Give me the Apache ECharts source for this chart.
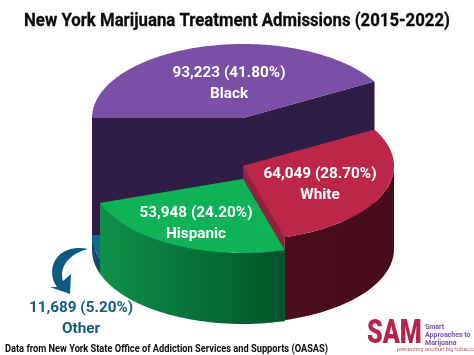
<!DOCTYPE html>
<html>
<head>
<meta charset="utf-8">
<style>
  html, body { margin: 0; padding: 0; background: #fff; }
  #chart { width: 474px; height: 355px; }
</style>
<script src="https://cdn.jsdelivr.net/npm/echarts@6/dist/echarts.min.js"></script>
</head>
<body>
<div id="chart"></div>
<script>
// 数据
const categories = ['Black', 'White', 'Hispanic', 'Other'];
const admissions = [93223, 64049, 53948, 11689];
const percentLabels = ['41.80%', '28.70%', '24.20%', '5.20%'];

// slices are painted back to front
const drawOrder = [0, 3, 1, 2];

// pie geometry
const centerX = 243, radiusX = 151, radiusY = 74, startAngle = 180;
const sliceTop = [118, 166, 179, 235];
const sliceDepth = [117, 83, 71, 15];
const topColors = ['#7b4fa6', '#bb2649', '#10b257', '#0f6a8c'];
const cutColors = ['#2f1c47', '#93203c', '#0b7a3c', '#134b66'];
const wallColors = [
  ['#2f1c47', '#2f1c47'],
  ['#4c0d1c', '#470b1a'],
  ['#0e9148', '#00542b'],
  ['#134b66', '#134b66']
];
const labelPos = [[229, 73], [320, 174], [196, 213], [81, 308]];
const labelColors = ['#fff', '#fff', '#fff', '#155a80'];

const total = admissions.reduce((a, b) => a + b, 0);

// 角度区间 (clockwise from startAngle)
function sliceAngles(idx) {
  let before = 0;
  for (let i = 0; i < idx; i++) before += admissions[i];
  return [
    startAngle - before / total * 360,
    startAngle - (before + admissions[idx]) / total * 360
  ];
}

function rim(deg, cy) {
  const a = deg * Math.PI / 180;
  return [centerX + radiusX * Math.cos(a), cy - radiusY * Math.sin(a)];
}

function arcPoints(from, to, cy) {
  const pts = [];
  const n = Math.max(2, Math.ceil(Math.abs(from - to)));
  for (let i = 0; i <= n; i++) pts.push(rim(from + (to - from) * i / n, cy));
  return pts;
}

function renderSlice(params, api) {
  const idx = api.value(0);
  const [a0, a1] = sliceAngles(idx);
  const cy = sliceTop[idx];
  const depth = sliceDepth[idx];
  const children = [];
  const poly = (points, fill) => children.push({ type: 'polygon', shape: { points }, style: { fill } });

  // 切面
  [a0, a1].forEach(a => {
    const p = rim(a, cy);
    poly([[centerX, cy], p, [p[0], p[1] + depth], [centerX, cy + depth]], cutColors[idx]);
  });

  // 外侧面, only the part below the horizontal axis faces the viewer
  const from = Math.min(a0, 0), to = Math.max(a1, -180);
  if (from > to) {
    const top = arcPoints(from, to, cy);
    const bottom = arcPoints(from, to, cy + depth);
    poly(top.concat(bottom.reverse()), {
      type: 'linear', x: 0, y: 0, x2: 1, y2: 0,
      colorStops: [
        { offset: 0, color: wallColors[idx][0] },
        { offset: 1, color: wallColors[idx][1] }
      ]
    });
  }

  // 顶面
  poly([[centerX, cy]].concat(arcPoints(a0, a1, cy)), topColors[idx]);

  // 标签
  const [lx, ly] = labelPos[idx];
  const font = 'bold 15.3px Roboto';
  children.push({
    type: 'text', z2: 10,
    style: {
      text: api.value(1).toLocaleString('en-US') + ' (' + percentLabels[idx] + ')',
      x: lx, y: ly, fill: labelColors[idx], font, align: 'center', verticalAlign: 'middle'
    }
  });
  children.push({
    type: 'text', z2: 10,
    style: {
      text: categories[idx],
      x: lx, y: ly + 21.5, fill: labelColors[idx], font, align: 'center', verticalAlign: 'middle'
    }
  });
  return { type: 'group', children };
}

// 箭头
function renderArrow() {
  return {
    type: 'path',
    shape: { pathData: 'M88 249 C70 245 53 253 52 272 C52 278 54 283 57 287 L50 287 L70 294 L71 274 L63 281 C59 268 68 254 88 249 Z' },
    style: { fill: '#0e5a80' }
  };
}

const chart = echarts.init(document.getElementById('chart'));
chart.setOption({
  animation: false,
  backgroundColor: '#ffffff',
  series: [
    {
      type: 'custom',
      coordinateSystem: 'none',
      silent: true,
      renderItem: renderSlice,
      data: drawOrder.map(i => [i, admissions[i]])
    },
    {
      type: 'custom',
      coordinateSystem: 'none',
      silent: true,
      renderItem: renderArrow,
      data: [0]
    }
  ],
  graphic: [
    {
      type: 'text', x: 237, y: 21, scaleX: 0.906,
      style: {
        text: 'New York Marijuana Treatment Admissions (2015-2022)',
        font: 'bold 18.5px Roboto', fill: '#0b0b0b', stroke: '#0b0b0b', lineWidth: 0.3,
        align: 'center', verticalAlign: 'middle'
      }
    },
    {
      type: 'text', x: 5, y: 349, scaleX: 0.883,
      style: {
        text: 'Data from New York State Office of Addiction Services and Supports (OASAS)',
        font: 'bold 10.5px Roboto', fill: '#0b0b0b', verticalAlign: 'middle'
      }
    },
    // logo
    { type: 'text', x: 367, y: 335, scaleX: 0.76, style: { text: 'SAM', font: '900 33px Roboto', fill: '#b3244a', verticalAlign: 'middle' } },
    { type: 'text', x: 425, y: 327, style: { text: 'Smart', font: 'bold 7px Roboto', fill: '#7b4fa6', verticalAlign: 'middle' } },
    { type: 'text', x: 425, y: 335, style: { text: 'Approaches to', font: 'bold 7px Roboto', fill: '#7b4fa6', verticalAlign: 'middle' } },
    { type: 'text', x: 425, y: 343, style: { text: 'Marijuana', font: 'bold 7px Roboto', fill: '#7b4fa6', verticalAlign: 'middle' } },
    { type: 'text', x: 397, y: 350, style: { text: 'preventing another big tobacco', font: '5.7px Roboto', fill: '#c0567a', verticalAlign: 'middle' } }
  ]
});
</script>
</body>
</html>
